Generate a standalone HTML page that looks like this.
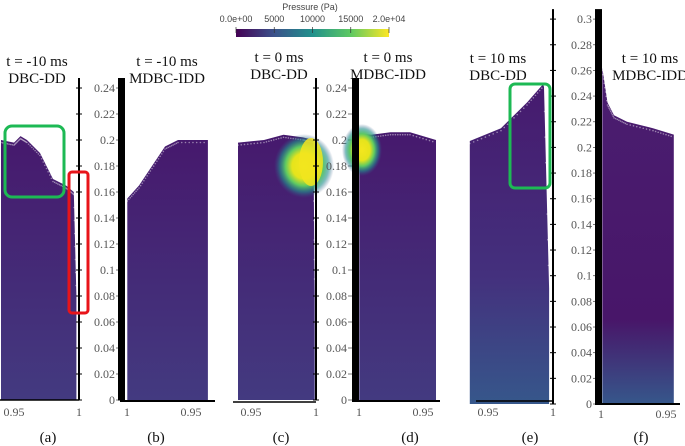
<!DOCTYPE html>
<html><head><meta charset="utf-8">
<style>
html,body{margin:0;padding:0;background:#fff;width:685px;height:446px;overflow:hidden}
svg{display:block}
.tk{font-family:"Liberation Serif","DejaVu Serif",serif;font-size:12px;fill:#555}
.cb{font-family:"Liberation Sans",sans-serif;font-size:9px;fill:#444}
.tt{font-family:"Liberation Serif","DejaVu Serif",serif;font-size:15px;fill:#111}
.lb{font-family:"Liberation Serif","DejaVu Serif",serif;font-size:15px;fill:#111}
</style></head><body>
<svg id="fig" width="685" height="446" viewBox="0 0 685 446">
<defs>
<linearGradient id="fluidA" x1="0" y1="0" x2="0" y2="1"><stop offset="0" stop-color="#46196d"/><stop offset="1" stop-color="#433a80"/></linearGradient>
<linearGradient id="fluidE" x1="0" y1="0" x2="0" y2="1"><stop offset="0" stop-color="#461a6e"/><stop offset="0.6" stop-color="#44307d"/><stop offset="1" stop-color="#36578b"/></linearGradient>
<linearGradient id="fluidF" x1="0" y1="0" x2="0" y2="1"><stop offset="0" stop-color="#4a1e70"/><stop offset="0.75" stop-color="#481669"/><stop offset="1" stop-color="#36578b"/></linearGradient>
<linearGradient id="cbar" x1="0" y1="0" x2="1" y2="0"><stop offset="0" stop-color="#440154"/><stop offset="0.25" stop-color="#3b528b"/><stop offset="0.5" stop-color="#21918c"/><stop offset="0.75" stop-color="#5ec962"/><stop offset="1" stop-color="#fde725"/></linearGradient>
<radialGradient id="hotC"><stop offset="0" stop-color="#f4e61e"/><stop offset="0.4" stop-color="#e6e41c"/><stop offset="0.62" stop-color="#5ec962"/><stop offset="0.82" stop-color="#21918c" stop-opacity="0.6"/><stop offset="1" stop-color="#3b528b" stop-opacity="0"/></radialGradient>
</defs>
<g id="root"></g>
</svg>
<script>
// colorbar data
const cbarTicks = [0, 5000, 10000, 15000, 20000];
const cbarLabels = ["0.0e+00", "5000", "10000", "15000", "2.0e+04"];
// y-axis ticks
const yTicksLow = [0, 0.02, 0.04, 0.06, 0.08, 0.1, 0.12, 0.14, 0.16, 0.18, 0.2, 0.22, 0.24];
const yTicksHigh = [0, 0.02, 0.04, 0.06, 0.08, 0.1, 0.12, 0.14, 0.16, 0.18, 0.2, 0.22, 0.24, 0.26, 0.28, 0.3];
const panelLabels = ["(a)", "(b)", "(c)", "(d)", "(e)", "(f)"];
const panelTimes = ["t = -10 ms", "t = -10 ms", "t = 0 ms", "t = 0 ms", "t = 10 ms", "t = 10 ms"];
const panelMethods = ["DBC-DD", "MDBC-IDD", "DBC-DD", "MDBC-IDD", "DBC-DD", "MDBC-IDD"];
// free-surface profiles [x, height]
const surfA = [[0.94,0.2],[0.95,0.198],[0.955,0.203],[0.96,0.2],[0.97,0.19],[0.98,0.17],[0.99,0.165],[0.996,0.16],[0.998,0.08]];
const surfB = [[0.999,0.155],[0.99,0.165],[0.98,0.18],[0.97,0.195],[0.96,0.2],[0.937,0.2]];
const surfC = [[0.94,0.198],[0.96,0.2],[0.975,0.204],[0.99,0.202],[0.998,0.2],[0.999,0.08]];
const surfD = [[0.999,0.205],[0.99,0.204],[0.975,0.206],[0.96,0.206],[0.94,0.2]];
const surfE = [[0.936,0.205],[0.96,0.215],[0.98,0.235],[0.993,0.25],[0.997,0.09]];
const surfF = [[0.999,0.262],[0.995,0.235],[0.99,0.225],[0.98,0.22],[0.96,0.215],[0.944,0.21]];

const NS="http://www.w3.org/2000/svg";
const root=document.getElementById('root');
function mk(tag,attrs,parent){const e=document.createElementNS(NS,tag);for(const k in attrs)e.setAttribute(k,attrs[k]);(parent||root).appendChild(e);return e;}

function yLow(v){return 400 - v*1300;}
function yHigh(v){return 404 - v*1283;}
function xRight(x1){return v=> x1 - (1-v)*1300;}
function xLeft(x1){return v=> x1 + (1-v)*1300;}

const cbx=v=>236+v/20000*153;
let t=mk('text',{x:310,y:10,'text-anchor':'middle',class:'cb'});


t.textContent='Pressure (Pa)';
let r=mk('rect',{x:236,y:29,width:153,height:8,fill:'url(#cbar)'});


cbarTicks.forEach((v,i)=>{
  mk('line',{x1:cbx(v),x2:cbx(v),y1:27,y2:33,stroke:'#333','stroke-width':0.7});
  const l=mk('text',{x:cbx(v),y:22,'text-anchor':'middle',class:'cb'});
  
  
  l.textContent=cbarLabels[i];
});

function fluid(surf,X,Y,fill,name){
  const pts=surf.map(p=>[X(p[0]),Y(p[1])]);
  const p=mk('path',{d:'M'+pts[0][0]+','+Y(0)+' L'+pts.map(p=>p[0].toFixed(1)+','+p[1].toFixed(1)).join(' L')+' L'+pts[pts.length-1][0]+','+Y(0)+' Z',fill:fill});
  
  
  for(let i=0;i<pts.length-1;i++){
    const n=8;
    for(let k=0;k<n;k++){
      const f=k/n,x=pts[i][0]+(pts[i+1][0]-pts[i][0])*f,y=pts[i][1]+(pts[i+1][1]-pts[i][1])*f;
      mk('circle',{cx:x,cy:y+2.5,r:0.8,fill:'#fff',opacity:0.45});
    }
  }
}
function yAxis(x,ticks,Y,name,thick){
  const g=mk('g',{});
  
  
  const top=Y(ticks[ticks.length-1])-10;
  if(thick) mk('rect',{x:x-3,y:top,width:7,height:Y(0)-top,fill:'#000'},g);
  else mk('line',{x1:x,x2:x,y1:top,y2:Y(0),stroke:'#000','stroke-width':2},g);
  ticks.forEach(v=>{
    mk('line',{x1:x-3,x2:x+3,y1:Y(v),y2:Y(v),stroke:'#000','stroke-width':1},g);
  });
}
function yLabels(xEnd,ticks,Y,name){
  ticks.forEach(v=>{
    mk('line',{x1:xEnd+1,x2:xEnd+6,y1:Y(v),y2:Y(v),stroke:'#555','stroke-width':0.8});
    const l=mk('text',{x:xEnd,y:Y(v)+4,'text-anchor':'end',class:'tk'});
    
    
    l.textContent=String(v);
  });
}
function xLabel(x,y,txt){
  const l=mk('text',{x:x,y:y,'text-anchor':'middle',class:'tk','font-size':'13'});
  
  
  l.textContent=txt;
}
function titles(i,cx,y){
  const a=mk('text',{x:cx,y:y,'text-anchor':'middle',class:'tt'});
  
  
  a.textContent=panelTimes[i];
  const b=mk('text',{x:cx,y:y+17,'text-anchor':'middle',class:'tt'});
  
  
  b.textContent=panelMethods[i];
}
const labX=[48,156,281,410,530,641];
panelLabels.forEach((s,i)=>{
  const l=mk('text',{x:labX[i],y:442,'text-anchor':'middle',class:'lb'});
  
  
  l.textContent=s;
});

// Panel a
const XA=xRight(79);
fluid(surfA,XA,yLow,'url(#fluidA)','fluid-a');
mk('line',{x1:0,x2:79,y1:400,y2:400,stroke:'#000','stroke-width':1.5});
yAxis(79,yTicksLow,yLow,'wall-axis-a',false);
yLabels(115,yTicksLow,yLow,'y-tick-label');
xLabel(XA(0.95),416,'0.95');xLabel(79,416,'1');
titles(0,37,66);
let gb=mk('rect',{x:5,y:126,width:59,height:71,rx:7,fill:'none',stroke:'#1db954','stroke-width':3});

let rb=mk('rect',{x:69,y:172,width:19,height:141,rx:3,fill:'none',stroke:'#e8141a','stroke-width':3});


// Panel b
const XB=xLeft(126);
fluid(surfB,XB,yLow,'url(#fluidA)','fluid-b');
mk('line',{x1:120,x2:215,y1:401,y2:401,stroke:'#000','stroke-width':2});
yAxis(121,yTicksLow,yLow,'wall-axis-b',true);
xLabel(127,416,'1');xLabel(XB(0.95),416,'0.95');
titles(1,167,66);

// Panel c
const XC=xRight(316);
fluid(surfC,XC,yLow,'url(#fluidA)','fluid-c');
let hc=mk('ellipse',{cx:304,cy:166,rx:30,ry:32,fill:'url(#hotC)'});

mk('ellipse',{cx:311,cy:162,rx:12,ry:24,fill:'#f2e51f',opacity:0.85});
mk('line',{x1:233,x2:316,y1:402,y2:402,stroke:'#000','stroke-width':1.5});
yAxis(316,yTicksLow,yLow,'wall-axis-c',false);
yLabels(347,yTicksLow,yLow,'y-tick-label');
xLabel(XC(0.95),416,'0.95');xLabel(316,416,'1');
titles(2,279,62);

// Panel d
const XD=xLeft(358);
fluid(surfD,XD,yLow,'url(#fluidA)','fluid-d');
let hd=mk('ellipse',{cx:362,cy:150,rx:20,ry:26,fill:'url(#hotC)'});

mk('line',{x1:352,x2:440,y1:401,y2:401,stroke:'#000','stroke-width':2});
yAxis(355,yTicksLow,yLow,'wall-axis-d',true);
xLabel(359,416,'1');xLabel(XD(0.95),416,'0.95');
titles(3,388,62);

// Panel e
const XE=xRight(553);
fluid(surfE,XE,yHigh,'url(#fluidE)','fluid-e');
mk('line',{x1:476,x2:553,y1:401,y2:401,stroke:'#000','stroke-width':1.5});
yAxis(553,yTicksHigh,yHigh,'wall-axis-e',false);
yLabels(592,yTicksHigh,yHigh,'y-tick-label');
xLabel(XE(0.95),416,'0.95');xLabel(553,416,'1');
titles(4,498,63);
let ge=mk('rect',{x:510,y:84,width:40,height:104,rx:5,fill:'none',stroke:'#1db954','stroke-width':3});


// Panel f
const XF=xLeft(601);
fluid(surfF,XF,yHigh,'url(#fluidF)','fluid-f');
mk('line',{x1:595,x2:680,y1:404,y2:404,stroke:'#000','stroke-width':2});
yAxis(598,yTicksHigh,yHigh,'wall-axis-f',true);
xLabel(601,418,'1');xLabel(XF(0.95),418,'0.95');
titles(5,650,63);
</script>
</body></html>
